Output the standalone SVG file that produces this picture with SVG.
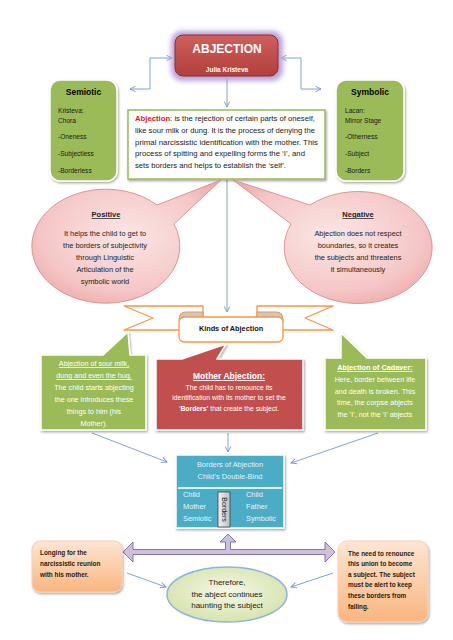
<svg xmlns="http://www.w3.org/2000/svg" width="453" height="640" viewBox="0 0 453 640">
<defs>
<style>
text{font-family:"Liberation Sans",Arial,sans-serif;}
.w{fill:#fff}
.b{font-weight:bold}
.c{text-anchor:middle}
.conn{fill:none;stroke:#7398CB;stroke-width:0.9}
.green{fill:#9BBB59;stroke:#fff;stroke-width:1.5}
.u{text-decoration:underline}
</style>
<marker id="ah" viewBox="0 0 10 10" refX="9" refY="5" markerWidth="7" markerHeight="7" markerUnits="userSpaceOnUse" orient="auto-start-reverse">
<path d="M1,1 L9,5 L1,9" fill="none" stroke="#7398CB" stroke-width="1.3"/>
</marker>
<filter id="sh" x="-20%" y="-20%" width="140%" height="140%"><feDropShadow dx="1" dy="1.5" stdDeviation="1" flood-color="#000" flood-opacity="0.35"/></filter>
<filter id="glow" x="-30%" y="-30%" width="160%" height="160%"><feGaussianBlur stdDeviation="2.5"/></filter>
<linearGradient id="red" x1="0" y1="0" x2="0" y2="1"><stop offset="0" stop-color="#D0605D"/><stop offset="1" stop-color="#B13F3C"/></linearGradient>
<radialGradient id="pink" cx="0.5" cy="0.45" r="0.6"><stop offset="0" stop-color="#FBE6E6"/><stop offset="0.75" stop-color="#F5C6C6"/><stop offset="1" stop-color="#EFAEAE"/></radialGradient>
<linearGradient id="orange" x1="0" y1="0" x2="0" y2="1"><stop offset="0" stop-color="#FDE6D3"/><stop offset="1" stop-color="#F9B57F"/></linearGradient>
<radialGradient id="lg" cx="0.5" cy="0.45" r="0.6"><stop offset="0" stop-color="#F4F8E8"/><stop offset="1" stop-color="#D3E2A8"/></radialGradient>
<linearGradient id="gray" x1="0" y1="0" x2="1" y2="0"><stop offset="0" stop-color="#F2F2F2"/><stop offset="1" stop-color="#BFBFBF"/></linearGradient>
</defs>

<g id="connectors">
<path class="conn" d="M130,89 H150 V58 H172" marker-start="url(#ah)" marker-end="url(#ah)"/>
<path class="conn" d="M321,89 H301 V58 H281" marker-start="url(#ah)" marker-end="url(#ah)"/>
<path class="conn" d="M227,78 V107" marker-end="url(#ah)"/>
<path class="conn" d="M227,180 V312" marker-end="url(#ah)"/>
<path class="conn" d="M92,433 L167,462" marker-end="url(#ah)"/>
<path class="conn" d="M228,433 V452" marker-end="url(#ah)"/>
<path class="conn" d="M378,433 L291,463" marker-end="url(#ah)"/>
<path class="conn" d="M127,573 L166,587" marker-end="url(#ah)"/>
<path class="conn" d="M333,573 L291,587" marker-end="url(#ah)"/>
</g>

<g id="abjection">
<rect x="171" y="31" width="112" height="50" rx="11" fill="#B9A3E0" filter="url(#glow)"/>
<rect x="175" y="35" width="103" height="41" rx="8" fill="url(#red)" stroke="#8E2E2B" stroke-width="1"/>
<text x="227" y="53" class="w b c" font-size="12">ABJECTION</text>
<text x="227" y="72" class="w b c" font-size="6.5" fill="#FBE3E3">Julia Kristeva</text>
</g>

<g id="semiotic">
<rect x="50" y="80" width="67" height="101" rx="10" class="green" filter="url(#sh)"/>
<text x="83.5" y="95" class="b c" font-size="8.5">Semiotic</text>
<g font-size="6.6" fill="#1a1a1a">
<text x="58" y="113">Kristeva:</text>
<text x="58" y="122.5">Chora</text>
<text x="58" y="139">-Oneness</text>
<text x="58" y="155.5">-Subjectless</text>
<text x="58" y="173">-Borderless</text>
</g>
</g>

<g id="symbolic">
<rect x="336" y="80" width="68" height="101" rx="10" class="green" filter="url(#sh)"/>
<text x="370" y="95" class="b c" font-size="8.5">Symbolic</text>
<g font-size="6.6" fill="#1a1a1a">
<text x="345" y="113">Lacan:</text>
<text x="345" y="122.5">Mirror Stage</text>
<text x="345" y="139">-Otherness</text>
<text x="345" y="155.5">-Subject</text>
<text x="345" y="173">-Borders</text>
</g>
</g>

<g id="definition">
<rect x="128" y="110" width="197" height="69" fill="#fff" stroke="#9BBB59" stroke-width="1.5" filter="url(#sh)"/>
<g font-size="7" fill="#1a1a1a">
<text x="135" y="121" textLength="180" lengthAdjust="spacingAndGlyphs"><tspan fill="#E0141E" font-weight="bold">Abjection</tspan>: is the rejection of certain parts of oneself,</text>
<text x="135" y="133" textLength="180" lengthAdjust="spacingAndGlyphs">like sour milk or dung. It is the process of denying the</text>
<text x="135" y="145" textLength="183" lengthAdjust="spacingAndGlyphs">primal narcissistic identification with the mother. This</text>
<text x="135" y="156" textLength="170" lengthAdjust="spacingAndGlyphs">process of spitting and expelling forms the ‘I’, and</text>
<text x="135" y="168" textLength="151" lengthAdjust="spacingAndGlyphs">sets borders and helps to establish the ‘self’.</text>
</g>
</g>

<g id="positive">
<path d="M157,205 L221,180 L174,224 A74,57 0 1 1 157,205 Z" fill="url(#pink)" stroke="#D98C8A" stroke-width="0.9"/>
<text x="106" y="217" class="b c u" font-size="7.5" fill="#222">Positive</text>
<g font-size="7.4" class="c" fill="#222">
<text x="105" y="236">It helps the child to get to</text>
<text x="105" y="248">the borders of subjectivity</text>
<text x="105" y="260">through Linguistic</text>
<text x="105" y="272">Articulation of the</text>
<text x="105" y="284">symbolic world</text>
</g>
</g>

<g id="negative">
<path d="M310,205 L233,180 L291,224 A74,56 0 1 0 310,205 Z" fill="url(#pink)" stroke="#D98C8A" stroke-width="0.9"/>
<text x="358" y="217" class="b c u" font-size="7.5" fill="#222">Negative</text>
<g font-size="7.4" class="c" fill="#222">
<text x="358" y="236">Abjection does not respect</text>
<text x="358" y="248">boundaries, so it creates</text>
<text x="358" y="260">the subjects and threatens</text>
<text x="358" y="272">it simultaneously</text>
</g>
</g>

<g id="kinds">
<path d="M124,306 L203,306 L203,330 L124,330 L153,318 Z" fill="#fff" stroke="#F79646" stroke-width="1.3" stroke-linejoin="round"/>
<path d="M333,306 L257,306 L257,330 L333,330 L305,318 Z" fill="#fff" stroke="#F79646" stroke-width="1.3" stroke-linejoin="round"/>
<path d="M179,320 Q179,312 186,312 L203,312 L203,318 L186,318 Z" fill="#C8C8C8" stroke="#F79646" stroke-width="1.1"/>
<path d="M283,320 Q283,312 276,312 L257,312 L257,318 L276,318 Z" fill="#C8C8C8" stroke="#F79646" stroke-width="1.1"/>
<rect x="179" y="317" width="104" height="25" rx="5" fill="#fff" stroke="#F79646" stroke-width="1.3"/>
<text x="231" y="331" class="b c" font-size="7.3" fill="#111">Kinds of Abjection</text>
</g>

<g id="sourmilk">
<path d="M41,355 H103 L128,332 L130,355 H146 V430 H41 Z" class="green" filter="url(#sh)"/>
<g font-size="7.2" class="w c">
<text x="94" y="366" class="u">Abjection of sour milk,</text>
<text x="94" y="378" class="u">dung and even the hug.</text>
<text x="94" y="390">The child starts abjecting</text>
<text x="94" y="402">the one introduces these</text>
<text x="94" y="414">things to him (his</text>
<text x="94" y="426">Mother).</text>
</g>
</g>

<g id="mother">
<path d="M156,359 H182 L226,344 L217,359 H303 V430 H156 Z" fill="#C0504D" stroke="#fff" stroke-width="1.5" filter="url(#sh)"/>
<text x="229" y="379" class="w b c u" font-size="8.5">Mother Abjection:</text>
<g font-size="6.8" class="w c">
<text x="229" y="389.5">The child has to renounce its</text>
<text x="229" y="400">identification with its mother to set the</text>
<text x="229" y="410.5">‘<tspan font-weight="bold">Borders’</tspan> that create the subject.</text>
</g>
</g>

<g id="cadaver">
<path d="M325,358 H341 L341,333 L367,358 H426 V430 H325 Z" class="green" filter="url(#sh)"/>
<text x="375" y="370" class="w b c u" font-size="7.3">Abjection of Cadaver:</text>
<g font-size="7.2" class="w c">
<text x="375" y="382">Here, border between life</text>
<text x="375" y="394">and death is broken. This</text>
<text x="375" y="405">time, the corpse abjects</text>
<text x="375" y="417">the ‘I’, not the ‘I’ abjects</text>
</g>
</g>

<g id="borders">
<rect x="176" y="455" width="108" height="73" fill="#4BACC6" stroke="#fff" stroke-width="1.5" filter="url(#sh)"/>
<text x="230" y="467" class="c" font-size="7.4" fill="#E3F1F6">Borders of Abjection</text>
<text x="230" y="478.5" class="c" font-size="7.4" fill="#E3F1F6">Child’s Double-Bind</text>
<rect x="178" y="487" width="104" height="2" fill="#DDF0F5"/>
<g font-size="7.4" fill="#E8F4F8">
<text x="183" y="497">Child</text>
<text x="183" y="509">Mother</text>
<text x="183" y="521">Semiotic</text>
<text x="246" y="497">Child</text>
<text x="246" y="509">Father</text>
<text x="246" y="521">Symbolic</text>
</g>
<rect x="218" y="492" width="12" height="35" fill="url(#gray)" stroke="#404040" stroke-width="0.8"/>
<text transform="translate(221.5,509.5) rotate(90)" class="c" font-size="7" fill="#222">Borders</text>
</g>

<g id="doublearrow">
<path d="M123,552 L133,542 L133,549.5 L225.5,549.5 L225.5,542 L220,542 L228,534 L236,542 L230.5,542 L230.5,549.5 L325,549.5 L325,542 L335,552 L325,562 L325,554.5 L133,554.5 L133,562 Z" fill="#CCC1DA" stroke="#8064A2" stroke-width="0.9" stroke-linejoin="round"/>
</g>

<g id="longing">
<rect x="32" y="541" width="90" height="51" rx="8" fill="url(#orange)" stroke="#FAD2B4" stroke-width="1" filter="url(#sh)"/>
<g font-size="6.4" class="b" fill="#2a1a0a">
<text x="40" y="554.5">Longing for the</text>
<text x="40" y="566">narcissistic  reunion</text>
<text x="40" y="577">with his mother.</text>
</g>
</g>

<g id="renounce">
<rect x="338" y="541" width="90" height="81" rx="9" fill="url(#orange)" stroke="#FAD2B4" stroke-width="1" filter="url(#sh)"/>
<g font-size="6.4" class="b" fill="#2a1a0a">
<text x="348" y="555.5">The need to renounce</text>
<text x="348" y="566">this union to become</text>
<text x="348" y="576.5">a subject. The subject</text>
<text x="348" y="587">must be alert to keep</text>
<text x="348" y="598">these borders from</text>
<text x="348" y="608.5">falling.</text>
</g>
</g>

<g id="therefore">
<ellipse cx="227" cy="594.5" rx="60" ry="27.5" fill="url(#lg)" stroke="#8DB3E2" stroke-width="1.5"/>
<g font-size="8" class="c" fill="#222">
<text x="227" y="585">Therefore,</text>
<text x="227" y="596.5">the abject continues</text>
<text x="227" y="608">haunting the subject</text>
</g>
</g>
</svg>
